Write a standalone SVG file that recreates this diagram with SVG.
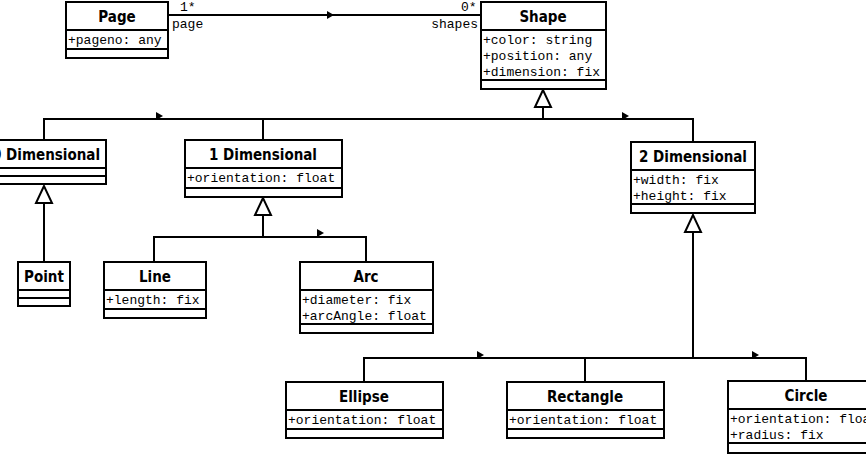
<svg xmlns="http://www.w3.org/2000/svg" width="866" height="455" viewBox="0 0 866 455">
<style>
rect{fill:#fff;stroke:#000;stroke-width:2}
line,path.c{stroke:#000;stroke-width:2;fill:none}
.t{font-family:"DejaVu Sans Condensed","DejaVu Sans",sans-serif;font-weight:bold;font-size:15px;text-anchor:middle}
.a{font-family:"Liberation Mono",monospace;font-size:13px}
.tri{fill:#fff;stroke:#000;stroke-width:2}
.ar{fill:#000}
</style>
<rect x="0" y="0" width="866" height="455" style="stroke:none"/>
<g id="connectors">
<line x1="168" y1="15" x2="481" y2="15"/>
<path class="ar" d="M327 11 L334 15 L327 19Z"/>
<text class="a" x="180" y="11">1*</text>
<text class="a" x="172" y="28">page</text>
<text class="a" x="461" y="11">0*</text>
<text class="a" x="478" y="28" text-anchor="end">shapes</text>
<path class="c" d="M543 107 V119 M44 140 V119 H693 V142 M263 119 V140"/>
<path class="tri" d="M543 90 L535 107 L551 107Z"/>
<path class="ar" d="M156 112 L163 116 L156 120Z"/>
<path class="ar" d="M622 112 L629 116 L622 120Z"/>
<path class="c" d="M44 203 V262"/>
<path class="tri" d="M44 186 L36 203 L52 203Z"/>
<path class="c" d="M263 215 V237 M154 262 V237 H366 V262"/>
<path class="tri" d="M263 198 L255 215 L271 215Z"/>
<path class="ar" d="M317 229 L324 233 L317 237Z"/>
<path class="c" d="M693 232 V358 M364 382 V358 H806 V381 M585 358 V382"/>
<path class="tri" d="M693 215 L685 232 L701 232Z"/>
<path class="ar" d="M477 351 L484 355 L477 359Z"/>
<path class="ar" d="M752 351 L759 355 L752 359Z"/>
</g>
<g id="page">
<rect x="66" y="2" width="102" height="56"/><line x1="66" y1="30" x2="168" y2="30"/><line x1="66" y1="49" x2="168" y2="49"/>
<text class="t" x="117" y="22">Page</text><text class="a" x="68" y="44">+pageno: any</text>
</g>
<g id="shape">
<rect x="481" y="2" width="125" height="87"/><line x1="481" y1="30" x2="606" y2="30"/><line x1="481" y1="80" x2="606" y2="80"/>
<text class="t" x="543" y="22">Shape</text>
<text class="a" x="483" y="44">+color: string</text><text class="a" x="483" y="60">+position: any</text><text class="a" x="483" y="76">+dimension: fix</text>
</g>
<g id="dim0">
<rect x="-18" y="140" width="124" height="44"/><line x1="-18" y1="168" x2="106" y2="168"/><line x1="-18" y1="176" x2="106" y2="176"/>
<text class="t" x="46" y="160">0 Dimensional</text>
</g>
<g id="dim1">
<rect x="185" y="140" width="157" height="57"/><line x1="185" y1="168" x2="342" y2="168"/><line x1="185" y1="188" x2="342" y2="188"/>
<text class="t" x="263" y="160">1 Dimensional</text><text class="a" x="187" y="182">+orientation: float</text>
</g>
<g id="dim2">
<rect x="631" y="142" width="124" height="71"/><line x1="631" y1="170" x2="755" y2="170"/><line x1="631" y1="204" x2="755" y2="204"/>
<text class="t" x="693" y="162">2 Dimensional</text><text class="a" x="633" y="184">+width: fix</text><text class="a" x="633" y="200">+height: fix</text>
</g>
<g id="point">
<rect x="18" y="262" width="52" height="44"/><line x1="18" y1="290" x2="70" y2="290"/><line x1="18" y1="298" x2="70" y2="298"/>
<text class="t" x="44" y="282">Point</text>
</g>
<g id="line">
<rect x="104" y="262" width="102" height="56"/><line x1="104" y1="290" x2="206" y2="290"/><line x1="104" y1="309" x2="206" y2="309"/>
<text class="t" x="155" y="282">Line</text><text class="a" x="106" y="304">+length: fix</text>
</g>
<g id="arc">
<rect x="300" y="262" width="133" height="71"/><line x1="300" y1="290" x2="433" y2="290"/><line x1="300" y1="324" x2="433" y2="324"/>
<text class="t" x="366" y="282">Arc</text><text class="a" x="302" y="304">+diameter: fix</text><text class="a" x="302" y="320">+arcAngle: float</text>
</g>
<g id="ellipse">
<rect x="286" y="382" width="157" height="56"/><line x1="286" y1="410" x2="443" y2="410"/><line x1="286" y1="429" x2="443" y2="429"/>
<text class="t" x="364" y="402">Ellipse</text><text class="a" x="288" y="424">+orientation: float</text>
</g>
<g id="rectangle">
<rect x="507" y="382" width="157" height="56"/><line x1="507" y1="410" x2="664" y2="410"/><line x1="507" y1="429" x2="664" y2="429"/>
<text class="t" x="585" y="402">Rectangle</text><text class="a" x="509" y="424">+orientation: float</text>
</g>
<g id="circle">
<rect x="728" y="381" width="157" height="72"/><line x1="728" y1="409" x2="885" y2="409"/><line x1="728" y1="443" x2="885" y2="443"/>
<text class="t" x="806" y="401">Circle</text><text class="a" x="730" y="423">+orientation: float</text><text class="a" x="730" y="439">+radius: fix</text>
</g>
</svg>
